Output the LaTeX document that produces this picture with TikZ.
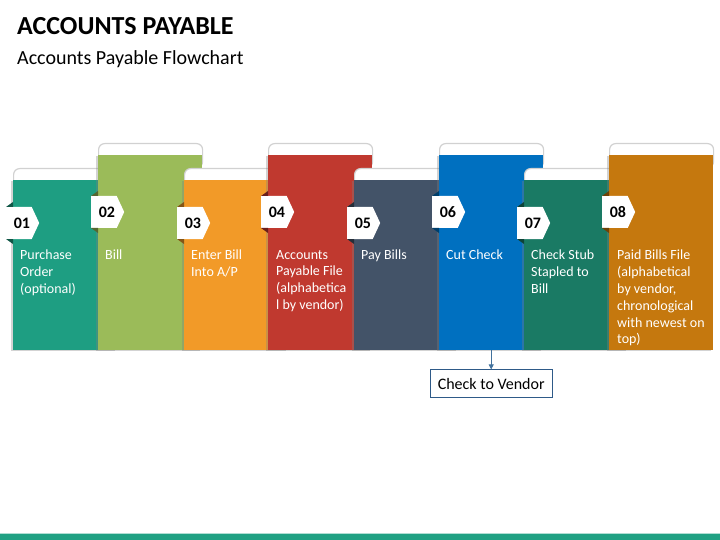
\documentclass[tikz,border=0pt]{standalone}
\usepackage{fontspec}
\setmainfont{Carlito}
\usetikzlibrary{positioning,shapes.symbols,shadows,arrows.meta}
\definecolor{cPurchase}{HTML}{1E9E82}
\definecolor{cBill}{HTML}{9BBB59}
\definecolor{cEnter}{HTML}{F29A28}
\definecolor{cFile}{HTML}{C0392F}
\definecolor{cPay}{HTML}{435368}
\definecolor{cCut}{HTML}{0070C0}
\definecolor{cStub}{HTML}{1A7A64}
\definecolor{cPaid}{HTML}{C5780E}
\definecolor{cBar}{HTML}{21A183}
\definecolor{cBorder}{HTML}{2E5A88}
\definecolor{cArrow}{HTML}{41719C}
\begin{document}
\begin{tikzpicture}[x=1pt,y=-1pt,
  panel node/.style={rectangle,anchor=north west,inner sep=0pt,minimum width=104pt,
    drop shadow={shadow xshift=-2pt,shadow yshift=-1pt,opacity=.35}},
  tab node/.style={rectangle,anchor=north west,rounded corners=6pt,fill=white,
    draw=black!18,line width=1.2pt,minimum width=104pt,minimum height=24pt},
  badge node/.style={signal,signal to=east,signal pointer angle=130,fill=white,anchor=west,
    inner sep=0pt,minimum width=33pt,minimum height=32pt,font=\fontsize{16}{16}\selectfont\bfseries,
    execute at begin node=\hspace*{6pt}},
  desc node/.style={anchor=north west,inner sep=0pt,align=left,text=white,
    font=\fontsize{14}{16.8}\selectfont},
  check node/.style={rectangle,draw=cBorder,line width=1pt,fill=white,minimum width=122pt,
    minimum height=28pt,font=\fontsize{16}{16}\selectfont}]
\useasboundingbox (0,0) rectangle (720,540);
%title
  \node[anchor=base west,inner sep=0pt,font=\fontsize{26}{26}\selectfont\bfseries] (title) at (17,35) {ACCOUNTS PAYABLE};
  \node[anchor=base west,inner sep=0pt,font=\fontsize{20}{20}\selectfont] (subtitle) at (17,65) {Accounts Payable Flowchart};
%1
  \node[tab node] (t1) at (13,168) {};
  \node[panel node,fill=cPurchase,minimum height=170pt] (p1) at (13,180) {};
  \node[badge node] (b1) at (6,223) {01};
  \fill[cPurchase!55!black] (b1.west) ++(0,-16) -- ++(7,0) -- ++(0,-5) -- cycle;
  \fill[cPurchase!55!black] (b1.west) ++(0,16) -- ++(7,0) -- ++(0,5) -- cycle;
  \node[desc node] (d1) at (20,250) {Purchase\\Order\\(optional)};
%2
  \node[tab node] (t2) at (98,143) {};
  \node[panel node,fill=cBill,minimum height=195pt] (p2) at (98,155) {};
  \node[badge node] (b2) at (91,212) {02};
  \fill[cBill!55!black] (b2.west) ++(0,-16) -- ++(7,0) -- ++(0,-5) -- cycle;
  \fill[cBill!55!black] (b2.west) ++(0,16) -- ++(7,0) -- ++(0,5) -- cycle;
  \node[desc node] (d2) at (105,250) {Bill};
%3
  \node[tab node] (t3) at (184,168) {};
  \node[panel node,fill=cEnter,minimum height=170pt] (p3) at (184,180) {};
  \node[badge node] (b3) at (177,223) {03};
  \fill[cEnter!55!black] (b3.west) ++(0,-16) -- ++(7,0) -- ++(0,-5) -- cycle;
  \fill[cEnter!55!black] (b3.west) ++(0,16) -- ++(7,0) -- ++(0,5) -- cycle;
  \node[desc node] (d3) at (191,250) {Enter Bill\\Into A/P};
%4
  \node[tab node] (t4) at (268,143) {};
  \node[panel node,fill=cFile,minimum height=195pt] (p4) at (268,155) {};
  \node[badge node] (b4) at (261,212) {04};
  \fill[cFile!55!black] (b4.west) ++(0,-16) -- ++(7,0) -- ++(0,-5) -- cycle;
  \fill[cFile!55!black] (b4.west) ++(0,16) -- ++(7,0) -- ++(0,5) -- cycle;
  \node[desc node] (d4) at (276,250) {Accounts\\Payable File\\(alphabetica\\l by vendor)};
%5
  \node[tab node] (t5) at (354,168) {};
  \node[panel node,fill=cPay,minimum height=170pt] (p5) at (354,180) {};
  \node[badge node] (b5) at (347,223) {05};
  \fill[cPay!55!black] (b5.west) ++(0,-16) -- ++(7,0) -- ++(0,-5) -- cycle;
  \fill[cPay!55!black] (b5.west) ++(0,16) -- ++(7,0) -- ++(0,5) -- cycle;
  \node[desc node] (d5) at (361,250) {Pay Bills};
%6
  \node[tab node] (t6) at (439,143) {};
  \node[panel node,fill=cCut,minimum height=195pt] (p6) at (439,155) {};
  \node[badge node] (b6) at (432,212) {06};
  \fill[cCut!55!black] (b6.west) ++(0,-16) -- ++(7,0) -- ++(0,-5) -- cycle;
  \fill[cCut!55!black] (b6.west) ++(0,16) -- ++(7,0) -- ++(0,5) -- cycle;
  \node[desc node] (d6) at (446,250) {Cut Check};
%7
  \node[tab node] (t7) at (524,168) {};
  \node[panel node,fill=cStub,minimum height=170pt] (p7) at (524,180) {};
  \node[badge node] (b7) at (517,223) {07};
  \fill[cStub!55!black] (b7.west) ++(0,-16) -- ++(7,0) -- ++(0,-5) -- cycle;
  \fill[cStub!55!black] (b7.west) ++(0,16) -- ++(7,0) -- ++(0,5) -- cycle;
  \node[desc node] (d7) at (531,250) {Check Stub\\Stapled to\\Bill};
%8
  \node[tab node] (t8) at (609,143) {};
  \node[panel node,fill=cPaid,minimum height=195pt] (p8) at (609,155) {};
  \node[badge node] (b8) at (602,212) {08};
  \fill[cPaid!55!black] (b8.west) ++(0,-16) -- ++(7,0) -- ++(0,-5) -- cycle;
  \fill[cPaid!55!black] (b8.west) ++(0,16) -- ++(7,0) -- ++(0,5) -- cycle;
  \node[desc node] (d8) at (617,250) {Paid Bills File\\(alphabetical\\by vendor,\\chronological\\with newest on\\top)};
%check
  \node[check node,below=19pt of p6] (cv) {Check to Vendor};
  \draw[-{Triangle[length=5pt,width=5pt]},draw=cArrow,fill=cArrow,line width=0.8pt] (p6.south) -- (cv.north);
%bar
  \draw[cBar!35,line width=1pt] (0,533) -- (720,533);
  \fill[cBar] (0,534) rectangle (720,540);
\end{tikzpicture}
\end{document}
